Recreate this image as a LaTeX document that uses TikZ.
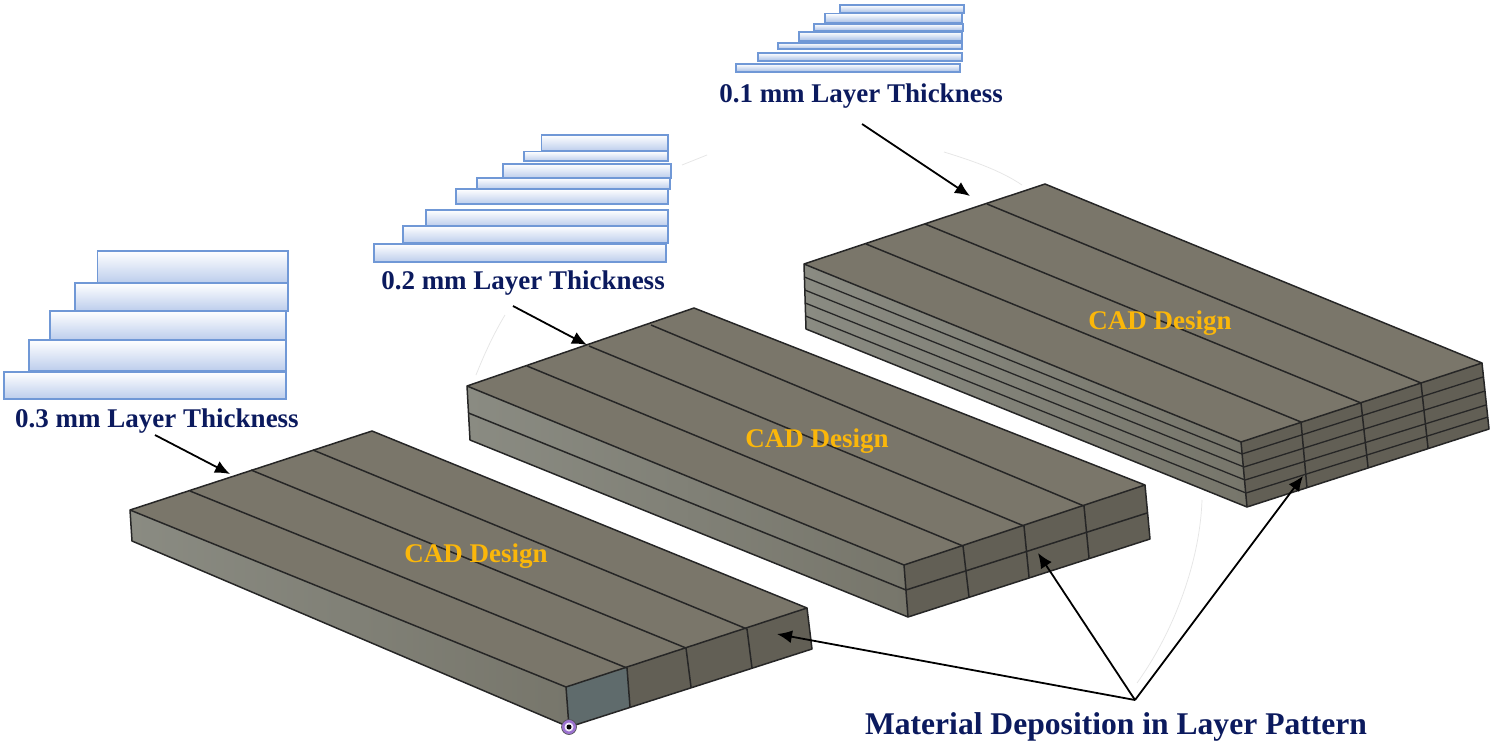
\documentclass[tikz,border=0pt]{standalone}
\usepackage{fontspec}
\setmainfont{Liberation Serif}
\usetikzlibrary{arrows.meta}
\definecolor{topc}{HTML}{7A766A}
\definecolor{leftl}{HTML}{8A8B82}
\definecolor{leftd}{HTML}{77766B}
\definecolor{rightc}{HTML}{625F55}
\definecolor{blueface}{HTML}{5F6B6C}
\definecolor{navy}{HTML}{0B1A5E}
\definecolor{cadc}{HTML}{FBB70A}
\definecolor{layeredge}{HTML}{7098D6}
\definecolor{layerfill}{HTML}{BCCDEC}
\definecolor{ringc}{HTML}{9B72CF}
\tikzset{
  layer/.style={draw=layeredge,line width=1.3pt,top color=white,bottom color=layerfill},
  fine layer/.style={draw=layeredge,line width=1.6pt,top color=white,bottom color=layerfill!70!layeredge},
  edge/.style={draw=black!85,line width=1.5pt,line join=round},
  thin edge/.style={edge,line width=1.3pt},
  thick label/.style={font=\fontsize{27}{30}\selectfont\bfseries,text=navy,inner sep=0pt},
  cad/.style={font=\fontsize{27}{30}\selectfont\bfseries,text=cadc,inner sep=0pt},
  pointer/.style={draw=black,line width=1.8pt,-{Latex[length=15pt,width=13pt]}},
  faint/.style={draw=black!10,line width=0.7pt},
  leftface/.style={left color=leftl,right color=leftd},
}
\newcommand{\lrect}[4]{\path[layer] (#1,#2) rectangle (#3,#4);}
\newcommand{\frect}[4]{\path[fine layer] (#1,#2) rectangle (#3,#4);}
\begin{document}
\begin{tikzpicture}[x=1pt,y=-1pt]
\useasboundingbox (0,0) rectangle (1494,747);
\fill[white] (0,0) rectangle (1494,747);
% faint construction circle
\draw[faint] (682,165) -- (707,155);
\draw[faint] (944,152) .. controls (970,160) and (1000,170) .. (1022,185);
\draw[faint] (505,315) .. controls (493,335) and (484,355) .. (476,375);
\draw[faint] (1202,500) .. controls (1200,560) and (1175,630) .. (1137,683);
% ---------- stairs 0.3
\lrect{97.5}{251}{288}{283}
\lrect{75}{283}{288}{311}
\lrect{50}{311}{286}{340}
\lrect{29}{340}{286}{371}
\lrect{4}{372}{286}{399}
\node[thick label,anchor=center] (l3) at (157,421) {0.3 mm Layer Thickness};
% ---------- stairs 0.2
\lrect{541.5}{135}{668}{151}
\lrect{524}{151.5}{668}{161}
\lrect{503}{164}{671}{178}
\lrect{477}{178}{670}{189}
\lrect{456}{189}{668}{204}
\lrect{426}{210}{668}{226}
\lrect{403}{226}{668}{243}
\lrect{374}{244}{666}{262}
\node[thick label,anchor=center] (l2) at (523,283) {0.2 mm Layer Thickness};
% ---------- stairs 0.1
\frect{840}{5}{964}{13}
\frect{825}{13.5}{962}{23}
\frect{814}{24}{963}{31}
\frect{799}{32}{962}{41}
\frect{778}{43}{962}{49}
\frect{758}{53}{962}{61}
\frect{736}{64}{960}{72}
\node[thick label,anchor=center] (l1) at (861,96) {0.1 mm Layer Thickness};
% ---------- block 0.3
\fill[leftface] (130,510) -- (566,687) -- (569,727) -- (132,541) -- cycle;
\fill[rightc] (566,687) -- (807,608) -- (812,649) -- (569,727) -- cycle;
\fill[blueface] (566,687) -- (627,668) -- (630,707) -- (569,727) -- cycle;
\fill[topc] (130,510) -- (372,431) -- (807,608) -- (566,687) -- cycle;
\draw[edge] (130,510) -- (372,431) -- (807,608) -- (812,649) -- (569,727) -- (132,541) -- cycle;
\draw[edge] (130,510) -- (566,687) -- (807,608);
\draw[edge] (566,687) -- (569,727);
\draw[edge] (190,491) -- (627,668) -- (630,707);
\draw[edge] (251,470) -- (686,648) -- (691,687);
\draw[edge] (313,450) -- (747,629) -- (752,668);
\node[circle,draw=black!70,line width=0.6pt,fill=ringc,inner sep=0pt,minimum size=15pt] (pivot) at (569,727) {};
\node[circle,fill=white!85!ringc,inner sep=0pt,minimum size=9pt] (pivotin) at (pivot) {};
\node[circle,fill=black,inner sep=0pt,minimum size=5pt] (pivotdot) at (pivot) {};
\node[cad] (c3) at (476,556) {CAD Design};
% ---------- block 0.2
\fill[leftface] (467,386) -- (904,565) -- (908,617) -- (470,440) -- cycle;
\fill[rightc] (904,565) -- (1145,485) -- (1150,539) -- (908,617) -- cycle;
\fill[topc] (467,386) -- (694,308) -- (1145,485) -- (904,565) -- cycle;
\draw[edge] (467,386) -- (694,308) -- (1145,485) -- (1150,539) -- (908,617) -- (470,440) -- cycle;
\draw[edge] (467,386) -- (904,565) -- (1145,485);
\draw[edge] (468.5,413) -- (906,590) -- (1147,513);
\draw[edge] (904,565) -- (908,617);
\draw[edge] (527,366) -- (963,546) -- (969,597);
\draw[edge] (589,346) -- (1024,526) -- (1029,577);
\draw[edge] (651,325) -- (1084,506) -- (1089,558);
\node[cad] (c2) at (817,441) {CAD Design};
% ---------- block 0.1
\fill[leftface] (804,264) -- (1241,442) -- (1247,507) -- (806,329) -- cycle;
\fill[rightc] (1241,442) -- (1482,363) -- (1489,429) -- (1247,507) -- cycle;
\fill[topc] (804,264) -- (1045,184) -- (1482,363) -- (1241,442) -- cycle;
\draw[edge] (804,264) -- (1045,184) -- (1482,363) -- (1489,429) -- (1247,507) -- (806,329) -- cycle;
\draw[edge] (804,264) -- (1241,442) -- (1482,363);
\draw[thin edge] (804.4,277) -- (1242,454) -- (1483,377);
\draw[thin edge] (804.8,290) -- (1244,467) -- (1485,391);
\draw[thin edge] (805.2,303) -- (1245,480) -- (1486,405);
\draw[thin edge] (805.6,316) -- (1246,493) -- (1488,417);
\draw[edge] (1241,442) -- (1247,507);
\draw[edge] (866,244) -- (1301,422) -- (1307,488);
\draw[edge] (925,224) -- (1361,403) -- (1368,467);
\draw[edge] (987,204) -- (1421,383) -- (1428,448);
\node[cad] (c1) at (1160,323) {CAD Design};
% ---------- label and pointers
\node[thick label,font=\fontsize{31.6}{34}\selectfont\bfseries,anchor=center] (mat) at (1116,727) {Material Deposition in Layer Pattern};
\coordinate (hub) at (1135,700);
\coordinate (s3) at (155,435);
\coordinate (t3) at (230,474);
\coordinate (s2) at (513,306);
\coordinate (t2) at (587,345);
\coordinate (s1) at (862,124);
\coordinate (t1) at (970,196);
\coordinate (a3) at (777,634);
\coordinate (a2) at (1038,553);
\coordinate (a1) at (1303,476);
\draw[pointer] (s3) -- (t3);
\draw[pointer] (s2) -- (t2);
\draw[pointer] (s1) -- (t1);
\draw[pointer] (hub) -- (a3);
\draw[pointer] (hub) -- (a2);
\draw[pointer] (hub) -- (a1);
\end{tikzpicture}
\end{document}
